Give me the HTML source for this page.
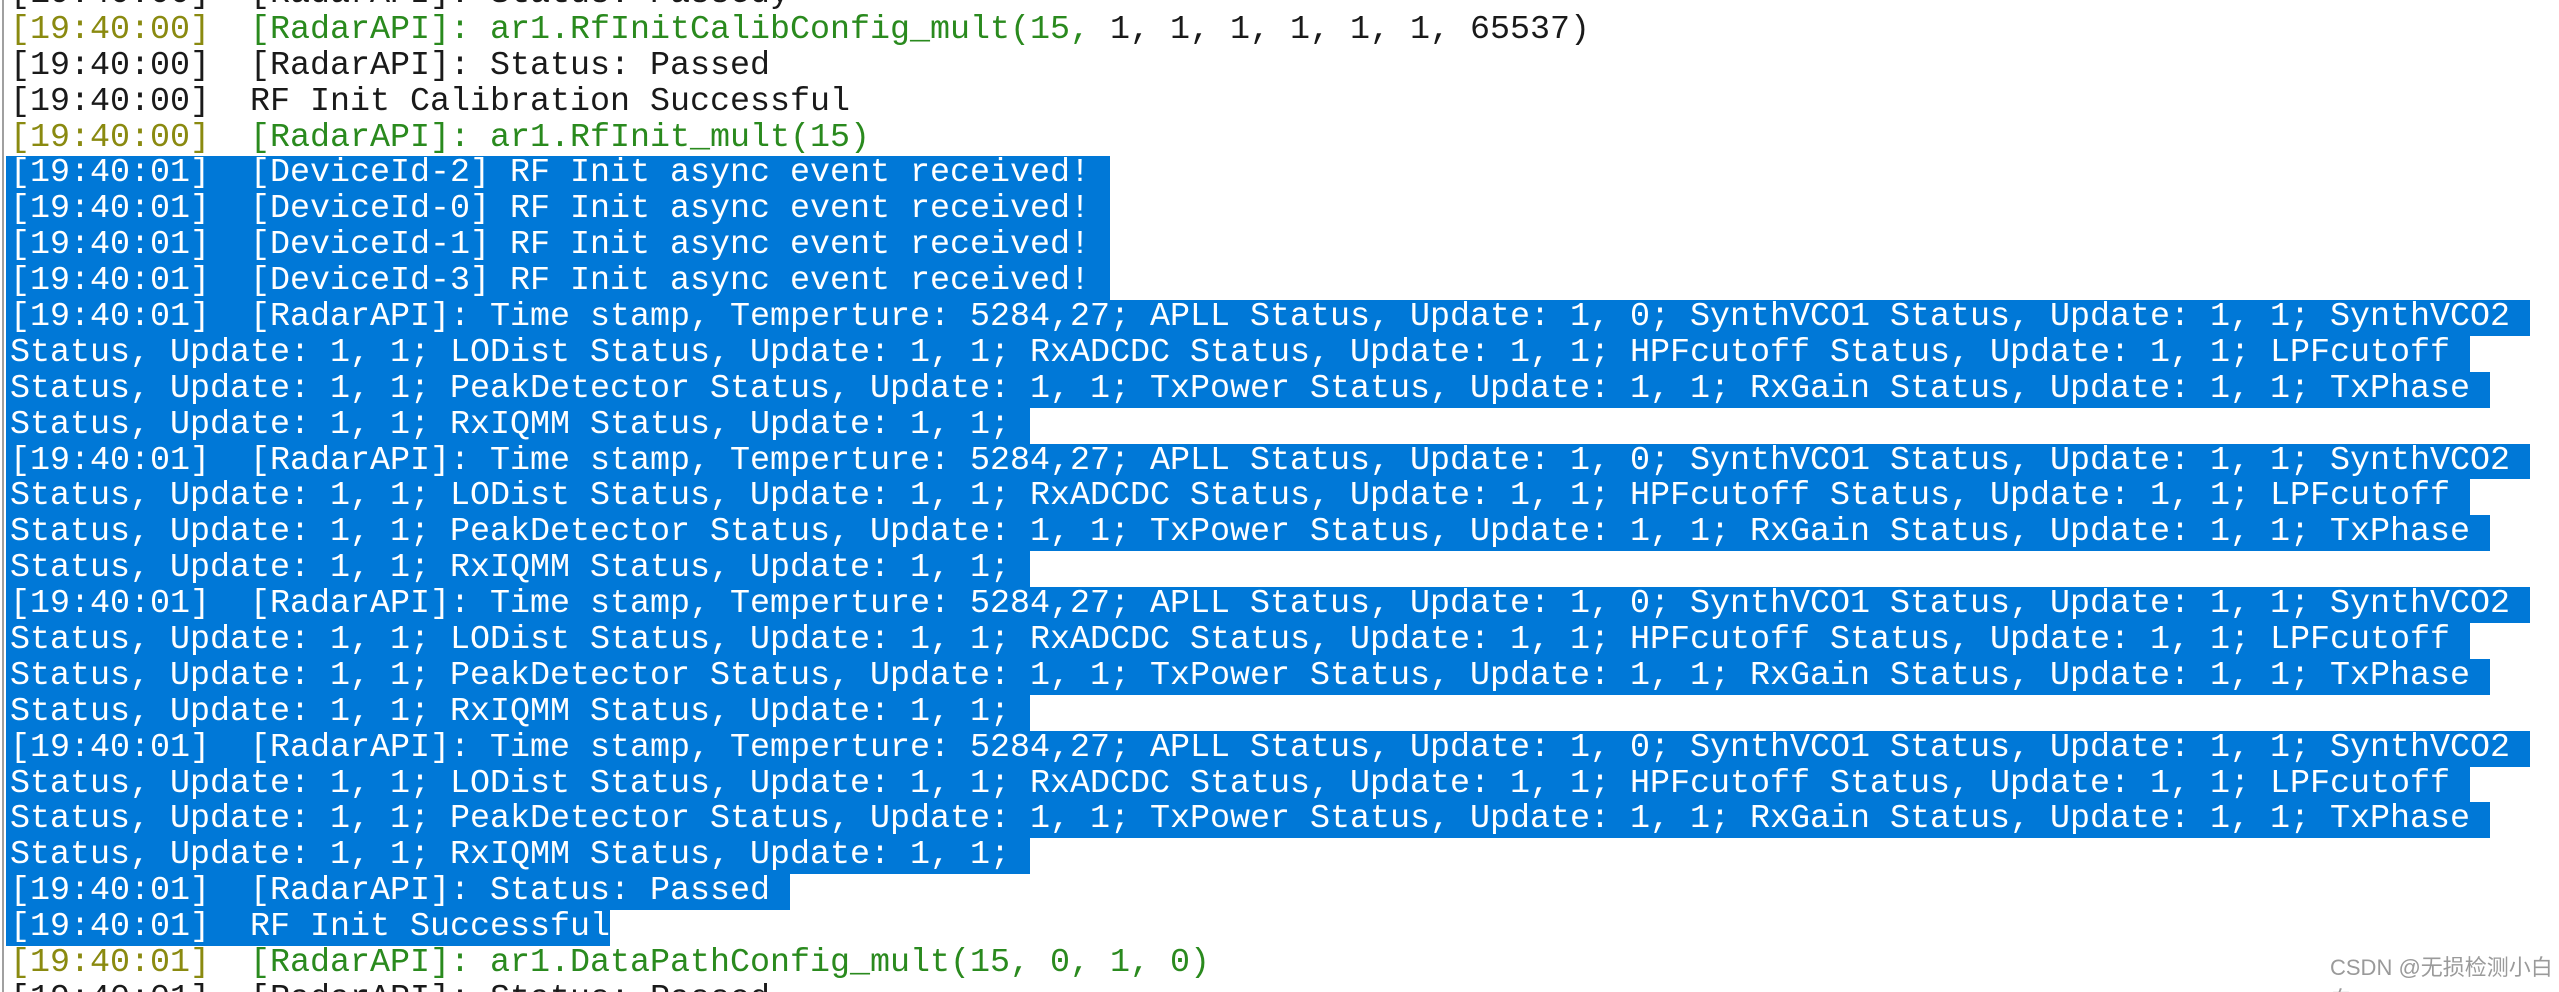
<!DOCTYPE html>
<html><head><meta charset="utf-8"><style>
html,body{margin:0;padding:0;background:#fff;width:2559px;height:992px;overflow:hidden;position:relative}
#bar{position:absolute;left:2px;top:0;width:2px;height:992px;background:#a0a0a0}
#log{position:absolute;left:6px;top:-23px;font-family:"Liberation Mono",monospace;font-size:33.33px}
.l{height:35.9px;line-height:35.9px;color:#1a1a1a;white-space:pre}
.l span{display:inline-block;height:35.9px;padding-left:4px;vertical-align:top}
.g{color:#2a8a1e}
.t{color:#8a8a10}
.h span{background:#0078d7;color:#fff}
b{font-weight:normal}
#wm{position:absolute;left:2330px;top:950px;font-family:"Liberation Sans","Noto Sans CJK SC",sans-serif;font-size:22px;color:#9a9a9a}
</style></head><body>
<div id="bar"></div>
<div id="log">
<div class="l"><span>[19:40:00]  [RadarAPI]: Status: Passedy</span></div>
<div class="l g"><span><b class="t">[19:40:00]</b>  [RadarAPI]: ar1.RfInitCalibConfig_mult(15,<b style="color:#1a1a1a"> 1, 1, 1, 1, 1, 1, 65537)</b></span></div>
<div class="l"><span>[19:40:00]  [RadarAPI]: Status: Passed</span></div>
<div class="l"><span>[19:40:00]  RF Init Calibration Successful</span></div>
<div class="l g"><span><b class="t">[19:40:00]</b>  [RadarAPI]: ar1.RfInit_mult(15)</span></div>
<div class="l h"><span>[19:40:01]  [DeviceId-2] RF Init async event received! </span></div>
<div class="l h"><span>[19:40:01]  [DeviceId-0] RF Init async event received! </span></div>
<div class="l h"><span>[19:40:01]  [DeviceId-1] RF Init async event received! </span></div>
<div class="l h"><span>[19:40:01]  [DeviceId-3] RF Init async event received! </span></div>
<div class="l h"><span>[19:40:01]  [RadarAPI]: Time stamp, Temperture: 5284,27; APLL Status, Update: 1, 0; SynthVCO1 Status, Update: 1, 1; SynthVCO2 </span></div>
<div class="l h"><span>Status, Update: 1, 1; LODist Status, Update: 1, 1; RxADCDC Status, Update: 1, 1; HPFcutoff Status, Update: 1, 1; LPFcutoff </span></div>
<div class="l h"><span>Status, Update: 1, 1; PeakDetector Status, Update: 1, 1; TxPower Status, Update: 1, 1; RxGain Status, Update: 1, 1; TxPhase </span></div>
<div class="l h"><span>Status, Update: 1, 1; RxIQMM Status, Update: 1, 1; </span></div>
<div class="l h"><span>[19:40:01]  [RadarAPI]: Time stamp, Temperture: 5284,27; APLL Status, Update: 1, 0; SynthVCO1 Status, Update: 1, 1; SynthVCO2 </span></div>
<div class="l h"><span>Status, Update: 1, 1; LODist Status, Update: 1, 1; RxADCDC Status, Update: 1, 1; HPFcutoff Status, Update: 1, 1; LPFcutoff </span></div>
<div class="l h"><span>Status, Update: 1, 1; PeakDetector Status, Update: 1, 1; TxPower Status, Update: 1, 1; RxGain Status, Update: 1, 1; TxPhase </span></div>
<div class="l h"><span>Status, Update: 1, 1; RxIQMM Status, Update: 1, 1; </span></div>
<div class="l h"><span>[19:40:01]  [RadarAPI]: Time stamp, Temperture: 5284,27; APLL Status, Update: 1, 0; SynthVCO1 Status, Update: 1, 1; SynthVCO2 </span></div>
<div class="l h"><span>Status, Update: 1, 1; LODist Status, Update: 1, 1; RxADCDC Status, Update: 1, 1; HPFcutoff Status, Update: 1, 1; LPFcutoff </span></div>
<div class="l h"><span>Status, Update: 1, 1; PeakDetector Status, Update: 1, 1; TxPower Status, Update: 1, 1; RxGain Status, Update: 1, 1; TxPhase </span></div>
<div class="l h"><span>Status, Update: 1, 1; RxIQMM Status, Update: 1, 1; </span></div>
<div class="l h"><span>[19:40:01]  [RadarAPI]: Time stamp, Temperture: 5284,27; APLL Status, Update: 1, 0; SynthVCO1 Status, Update: 1, 1; SynthVCO2 </span></div>
<div class="l h"><span>Status, Update: 1, 1; LODist Status, Update: 1, 1; RxADCDC Status, Update: 1, 1; HPFcutoff Status, Update: 1, 1; LPFcutoff </span></div>
<div class="l h"><span>Status, Update: 1, 1; PeakDetector Status, Update: 1, 1; TxPower Status, Update: 1, 1; RxGain Status, Update: 1, 1; TxPhase </span></div>
<div class="l h"><span>Status, Update: 1, 1; RxIQMM Status, Update: 1, 1; </span></div>
<div class="l h"><span>[19:40:01]  [RadarAPI]: Status: Passed </span></div>
<div class="l h"><span>[19:40:01]  RF Init Successful</span></div>
<div class="l g"><span><b class="t">[19:40:01]</b>  [RadarAPI]: ar1.DataPathConfig_mult(15, 0, 1, 0)</span></div>
<div class="l"><span>[19:40:01]  [RadarAPI]: Status: Passed</span></div>
</div>
<div id="wm">CSDN @无损检测小白白</div>
</body></html>
